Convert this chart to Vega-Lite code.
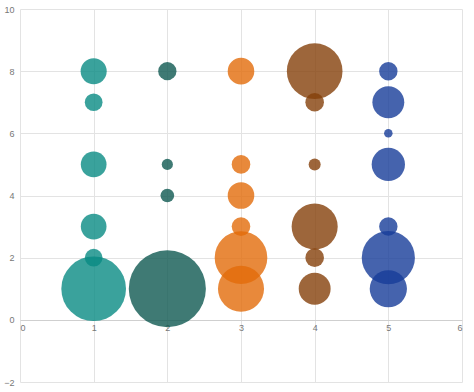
{
  "$schema": "https://vega.github.io/schema/vega-lite/v6.json",
  "autosize": "none",
  "width": 442,
  "height": 373,
  "padding": {"left": 20, "top": 9, "right": 12, "bottom": 10},
  "background": "white",
  "config": {
    "view": {"stroke": null},
    "axis": {"labelFont": "Liberation Sans", "labelFontSize": 9, "labelColor": "#777", "gridColor": "#e3e3e3", "gridWidth": 1, "ticks": false, "title": null}
  },
  "data": {
    "values": [
      {"x": 1, "y": 8, "v": 14.7, "g": "A"},
      {"x": 1, "y": 7, "v": 10, "g": "A"},
      {"x": 1, "y": 5, "v": 14.5, "g": "A"},
      {"x": 1, "y": 3, "v": 14.5, "g": "A"},
      {"x": 1, "y": 2, "v": 10, "g": "A"},
      {"x": 1, "y": 1, "v": 36.5, "g": "A"},
      {"x": 2, "y": 8, "v": 10.3, "g": "B"},
      {"x": 2, "y": 5, "v": 6.3, "g": "B"},
      {"x": 2, "y": 4, "v": 7.7, "g": "B"},
      {"x": 2, "y": 1, "v": 43.5, "g": "B"},
      {"x": 3, "y": 8, "v": 15, "g": "C"},
      {"x": 3, "y": 5, "v": 10.5, "g": "C"},
      {"x": 3, "y": 4, "v": 15, "g": "C"},
      {"x": 3, "y": 3, "v": 10.5, "g": "C"},
      {"x": 3, "y": 2, "v": 29.7, "g": "C"},
      {"x": 3, "y": 1, "v": 26, "g": "C"},
      {"x": 4, "y": 8, "v": 31.4, "g": "D"},
      {"x": 4, "y": 7, "v": 10.5, "g": "D"},
      {"x": 4, "y": 5, "v": 6.8, "g": "D"},
      {"x": 4, "y": 3, "v": 26, "g": "D"},
      {"x": 4, "y": 2, "v": 10.5, "g": "D"},
      {"x": 4, "y": 1, "v": 18, "g": "D"},
      {"x": 5, "y": 8, "v": 10.4, "g": "E"},
      {"x": 5, "y": 7, "v": 18, "g": "E"},
      {"x": 5, "y": 6, "v": 4.8, "g": "E"},
      {"x": 5, "y": 5, "v": 18.8, "g": "E"},
      {"x": 5, "y": 3, "v": 10.4, "g": "E"},
      {"x": 5, "y": 2, "v": 30, "g": "E"},
      {"x": 5, "y": 1, "v": 21, "g": "E"}
    ]
  },
  "mark": {"type": "circle", "opacity": 0.8, "stroke": null},
  "encoding": {
    "x": {
      "field": "x", "type": "quantitative",
      "scale": {"domain": [0, 6], "nice": false, "zero": false},
      "axis": {"values": [0, 1, 2, 3, 4, 5, 6], "offset": -62, "domain": true, "domainColor": "#cfcfcf", "labelPadding": 3, "grid": true}
    },
    "y": {
      "field": "y", "type": "quantitative",
      "scale": {"domain": [-2, 10], "nice": false, "zero": false},
      "axis": {"values": [-2, 0, 2, 4, 6, 8, 10], "domain": false, "labelPadding": 6, "grid": true}
    },
    "size": {
      "field": "v", "type": "quantitative",
      "scale": {"type": "pow", "exponent": 2, "domain": [0, 44], "range": [0, 6082]},
      "legend": null
    },
    "color": {
      "field": "g", "type": "nominal",
      "scale": {"domain": ["A", "B", "C", "D", "E"], "range": ["#098b83", "#0f5951", "#e26b0a", "#84400a", "#163c98"]},
      "legend": null
    }
  }
}
